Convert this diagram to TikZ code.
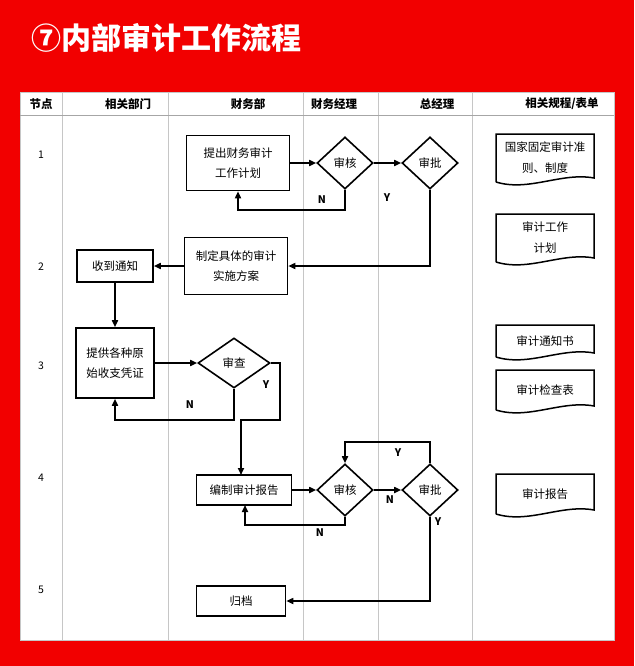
\documentclass[tikz,border=0pt]{standalone}
\usepackage{fontspec}
\setmainfont{Noto Sans CJK SC}
\usetikzlibrary{shapes.geometric,arrows.meta}
\tikzset{
 box/.style={draw,line width=1.6pt,align=center,font=\fontsize{11.5}{20}\selectfont,inner sep=0pt},
 dia/.style={draw,line width=1.6pt,diamond,aspect=1.1,minimum width=56pt,minimum height=52pt,inner sep=0pt,font=\fontsize{11.5}{13}\selectfont},
 con/.style={line width=1.6pt,-{Triangle[length=7pt,width=6pt]}},
 lab/.style={font=\bfseries\fontsize{10.5}{12}\selectfont},
 hd/.style={font=\bfseries\fontsize{11.5}{12}\selectfont},
 grid/.style={draw=gray!45,line width=0.6pt}
}
\newcommand{\docnode}[6]{%
 \node[align=center,font=\fontsize{11.5}{21}\selectfont,inner sep=0pt] (#1) at (#2,#3) {#6};
 \draw[line width=1.5pt] (#2-#4/2,#3+#5/2) -- (#2-#4/2,#3-#5/2) -- (#2+#4/2,#3-#5/2) -- (#2+#4/2,#3+#5/2-4)
  .. controls (#2+#4/6,#3+#5/2-10) and (#2-#4/6,#3+#5/2+10) .. (#2-#4/2,#3+#5/2);
}
\begin{document}
\begin{tikzpicture}[x=1pt,y=-1pt]
\fill[red!95!black] (0,0) rectangle (634,666);
\useasboundingbox (0,0) rectangle (634,666);
\node[anchor=west,text=white,font=\bfseries\fontsize{30}{32}\selectfont] (title) at (28,38) {⑦内部审计工作流程};
\fill[white] (20,92) rectangle (614,640);
\draw[grid] (20,92) rectangle (614,640);
\foreach \x in {62,168,303,378,472} \draw[grid] (\x,92) -- (\x,640);
\draw[draw=gray!70,line width=0.8pt] (20,115) -- (614,115);
\node[hd] (h0) at (41,104) {节点};
\node[hd] (h1) at (128,104) {相关部门};
\node[hd] (h2) at (248,104) {财务部};
\node[hd] (h3) at (334,104) {财务经理};
\node[hd] (h4) at (437,104) {总经理};
\node[hd] (h5) at (562,104) {相关规程/表单};
\foreach \n/\y in {1/155,2/267,3/366,4/478,5/590} \node[font=\fontsize{10.5}{12}\selectfont] (r\n) at (41,\y) {\n};
% nodes
\node[box,minimum width=103pt,minimum height=55pt] (plan) at (238,163) {提出财务审计\\工作计划};
\node[dia] (sh1) at (345,163) {审核};
\node[dia] (sp1) at (430,163) {审批};
\node[box,minimum width=103pt,minimum height=57pt] (fa) at (236,266) {制定具体的审计\\实施方案};
\node[box,minimum width=76pt,minimum height=32pt] (tz) at (115,266) {收到通知};
\node[box,minimum width=78pt,minimum height=70pt] (tg) at (115,363) {提供各种原\\始收支凭证};
\node[dia,minimum width=72pt,minimum height=50pt] (sc) at (234,363) {审查};
\node[box,minimum width=95pt,minimum height=30pt] (bz) at (244,490) {编制审计报告};
\node[dia] (sh2) at (345,490) {审核};
\node[dia] (sp2) at (430,490) {审批};
\node[box,minimum width=89pt,minimum height=30pt] (gd) at (241,601) {归档};
% documents
\docnode{d1}{545}{158}{98}{48}{国家固定审计准\\则、制度}
\docnode{d2}{545}{238}{98}{48}{审计工作\\计划}
\docnode{d3}{545}{341}{98}{32}{审计通知书}
\docnode{d4}{545}{390}{98}{40}{审计检查表}
\docnode{d5}{545}{494}{98}{40}{审计报告}
% connectors
\draw[con] (plan) -- (sh1);
\draw[con] (sh1) -- (sp1);
\draw[con] (sh1.south) |- (290,210) -| (plan.south);
\node[lab] (n1) at (322,200) {N};
\node[lab] (y1) at (387,198) {Y};
\draw[con] (sp1.south) |- (fa.east);
\draw[con] (fa) -- (tz);
\draw[con] (tz) -- (tg);
\draw[con] (tg) -- (sc);
\draw[con] (sc.south) |- (150,420) -| (tg.south);
\node[lab] (n2) at (190,405) {N};
\draw[con] (sc.east) -- (280,363) -- (280,420) -- (241,420) -- (241,475);
\node[lab] (y2) at (266,385) {Y};
\draw[con] (bz) -- (sh2);
\draw[con] (sh2) -- (sp2);
\node[lab] (n3) at (390,500) {N};
\draw[con] (sh2.south) |- (290,525) -| (245,505);
\node[lab] (n4) at (320,533) {N};
\draw[con] (sp2.north) |- (345,442) -- (sh2.north);
\node[lab] (y3) at (398,453) {Y};
\draw[con] (sp2.south) |- (gd.east);
\node[lab] (y4) at (438,522) {Y};
\end{tikzpicture}
\end{document}
